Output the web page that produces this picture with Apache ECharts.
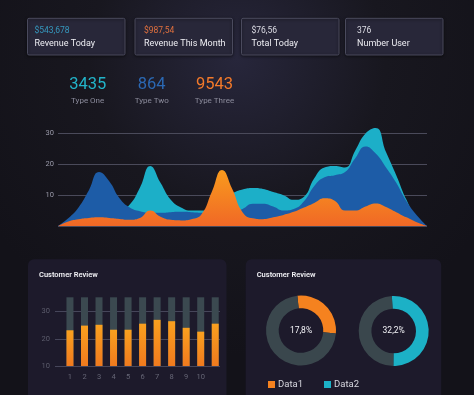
<!DOCTYPE html>
<html><head><meta charset="utf-8">
<script src="https://cdn.jsdelivr.net/npm/echarts@6/dist/echarts.min.js"></script>
<style>html,body{margin:0;padding:0;background:#14141d;overflow:hidden}#c{width:474px;height:395px}</style>
</head><body><div id="c"></div>
<script>
// ---------- data ----------
const cardValues = ['$543,678', '$987,54', '$76,56', '376'];
const cardLabels = ['Revenue Today', 'Revenue This Month', 'Total Today', 'Number User'];
const statValues = ['3435', '864', '9543'];
const statLabels = ['Type One', 'Type Two', 'Type Three'];

const areaCategories = Array.from({length: 37}, (_, i) => String(i + 1));
const areaCyan = [0, 0.5, 1, 2, 3, 4, 5, 7, 12.5, 19.5, 14, 8.5, 6, 5, 5, 6, 8, 10.5, 11.8, 12.3, 12, 11, 10, 8.5, 9.5, 15.5, 19, 19.5, 19, 24.5, 30, 31.8, 24, 16.5, 8.5, 2.5, 0];
const areaBlue = [0, 2.5, 6, 11.5, 17.5, 14.5, 9, 6, 4.8, 4.3, 4.3, 4.5, 4.6, 4.5, 4.3, 4, 4, 4.2, 5.5, 7.2, 7.2, 6.3, 5, 5.5, 8, 13, 15.8, 16.5, 17.5, 22, 25.8, 23.5, 19, 14, 8, 3.5, 0];
const areaOrange = [0, 1.5, 2.2, 2.6, 2.8, 2.6, 2.3, 2, 2.6, 5, 3, 2, 1.8, 2.2, 3.8, 11, 18.2, 12, 4.5, 2.5, 2.2, 2.8, 3.6, 4.6, 6, 7.5, 9, 8.2, 5, 5, 6.3, 7.3, 6.2, 4.5, 2.8, 1.2, 0];
const areaTicks = [10, 20, 30];

const barCategories = ['1', '2', '3', '4', '5', '6', '7', '8', '9', '10', ''];
const barTotal = [35, 35, 35, 35, 35, 35, 35, 35, 35, 35, 35];
const barValues = [23, 24.7, 25, 23.2, 23.2, 25.4, 26.8, 26.3, 23.9, 22.5, 25.4];

const panelTitles = ['Customer Review', 'Customer Review'];
const donutNames = ['Data1', 'Data2'];
const donutValues = [28, 51];
const donutLabels = ['17,8%', '32,2%'];

// ---------- layout / styles ----------
const FONT = 'Roboto, "Liberation Sans", sans-serif';
const cardX = [27.5, 135, 241.5, 345.5];
const cardTextX = [34.5, 144, 251.5, 357];
const cardValueColors = ['#3597bd', '#e0703e', '#dcdce4', '#dcdce4'];
const statX = [87.7, 151.7, 214.5];
const statColors = ['#22b4c9', '#2b68b3', '#f2792a'];
const donutCenters = [[301, 330.5], [393.7, 331]];
const donutColors = ['#f5821f', '#1cb1c6'];

const chart = echarts.init(document.getElementById('c'), null, {renderer: 'canvas'});

const graphics = [];
graphics.push({
  type: 'rect', shape: {x: 0, y: 0, width: 474, height: 395}, z: -10,
  style: {fill: new echarts.graphic.RadialGradient(0.5, 0.15, 0.75, [
    {offset: 0, color: '#27263b'}, {offset: 0.5, color: '#18171f'}, {offset: 1, color: '#131219'}])}
});
// panels
[[28, 198.5], [245.7, 195.5]].forEach((p, i) => {
  graphics.push({type: 'rect', z: -5, shape: {x: p[0], y: 259.3, width: p[1], height: 160, r: 6},
    style: {fill: '#1d1a2b'}});
  graphics.push({type: 'text', z: 5, style: {x: p[0] + 11, y: 275, text: panelTitles[i], fill: '#f0f0f4',
    font: '600 7.5px ' + FONT, verticalAlign: 'middle'}});
});
// cards
cardValues.forEach((v, i) => {
  graphics.push({type: 'rect', z: -5, shape: {x: cardX[i], y: 18.3, width: 97.5, height: 36.7, r: 1.5},
    style: {fill: '#282739', stroke: '#4a4a5d', lineWidth: 1, shadowColor: 'rgba(0,0,0,0.5)', shadowBlur: 3, shadowOffsetY: 1}});
  graphics.push({type: 'text', z: 5, style: {x: cardTextX[i], y: 30.5, text: v, fill: cardValueColors[i],
    font: '8.5px ' + FONT, verticalAlign: 'middle'}});
  graphics.push({type: 'text', z: 5, style: {x: cardTextX[i], y: 43.7, text: cardLabels[i], fill: '#eeeef3',
    font: '9px ' + FONT, verticalAlign: 'middle'}});
});
// stats
statValues.forEach((v, i) => {
  graphics.push({type: 'text', z: 5, style: {x: statX[i], y: 85, text: v, fill: statColors[i],
    font: '16.5px ' + FONT, align: 'center', verticalAlign: 'middle'}});
  graphics.push({type: 'text', z: 5, style: {x: statX[i], y: 100.7, text: statLabels[i], fill: '#8c8c9c',
    font: '8px ' + FONT, align: 'center', verticalAlign: 'middle'}});
});
// donut center labels
donutLabels.forEach((t, i) => {
  graphics.push({type: 'text', z: 5, style: {x: donutCenters[i][0], y: donutCenters[i][1], text: t, fill: '#f2f2f6',
    font: '8.5px ' + FONT, align: 'center', verticalAlign: 'middle'}});
});

const areaSeries = (name, data, color) => ({
  name, type: 'line', xAxisIndex: 0, yAxisIndex: 0, data, smooth: 0.5, showSymbol: false, symbol: 'none',
  clip: false, silent: true, lineStyle: {width: 0, opacity: 0}, areaStyle: {color: color, opacity: 1}
});

chart.setOption({
  animation: false,
  textStyle: {fontFamily: FONT},
  graphic: {elements: graphics},
  grid: [
    {left: 58, right: 47, top: 133.5, bottom: 169},
    {left: 62.7, right: 251.5, top: 297.3, bottom: 29},
    {left: 55, right: 254, top: 311.5, bottom: 29}
  ],
  xAxis: [
    {gridIndex: 0, type: 'category', data: areaCategories, boundaryGap: false, show: false},
    {gridIndex: 1, type: 'category', data: barCategories, axisLine: {show: false}, axisTick: {show: false},
      axisLabel: {color: '#666676', fontSize: 7.5, margin: 7, interval: 0}},
    {gridIndex: 2, type: 'value', min: 0, max: 1, show: false}
  ],
  yAxis: [
    {gridIndex: 0, type: 'value', min: 0, max: 30, interval: 10,
      axisLine: {show: false}, axisTick: {show: false},
      axisLabel: {color: '#9a9aaa', fontSize: 7.5, margin: 4, formatter: v => areaTicks.includes(v) ? String(v) : ''},
      splitLine: {lineStyle: {color: '#4a4a5a', width: 1}}},
    {gridIndex: 1, type: 'value', min: 10, max: 35, show: false},
    {gridIndex: 2, type: 'value', min: 10, max: 30, interval: 10,
      axisLine: {show: false}, axisTick: {show: false},
      axisLabel: {color: '#5c5c6c', fontSize: 7.5, margin: 5},
      splitLine: {lineStyle: {color: '#46465a', width: 1}}}
  ],
  legend: {
    data: donutNames, left: 268, top: 379.5, itemWidth: 7, itemHeight: 7, itemGap: 21, padding: 0,
    icon: 'rect', selectedMode: false,
    textStyle: {color: '#d6d6de', fontSize: 9.5, fontFamily: FONT, padding: [0, 0, 0, -2]}
  },
  series: [
    areaSeries('Cyan', areaCyan, '#1cafc8'),
    areaSeries('Blue', areaBlue, '#1d5ca7'),
    areaSeries('Orange', areaOrange, new echarts.graphic.LinearGradient(0, 0, 0, 1, [
      {offset: 0, color: '#f99b1d'}, {offset: 1, color: '#f06826'}])),
    {type: 'bar', xAxisIndex: 1, yAxisIndex: 1, data: barTotal, barWidth: 7, silent: true, z: 3,
      itemStyle: {color: '#3b4950'}},
    {type: 'bar', xAxisIndex: 1, yAxisIndex: 1, data: barValues, barWidth: 7, barGap: '-100%', silent: true, z: 4,
      itemStyle: {color: new echarts.graphic.LinearGradient(0, 0, 0, 1, [
        {offset: 0, color: '#f9a01f'}, {offset: 1, color: '#f07a1e'}])}},
    ...donutNames.map((n, i) => ({
      type: 'pie', center: donutCenters[i], radius: [22.3, 35], startAngle: i === 0 ? 96 : 93, clockwise: true,
      silent: true, label: {show: false}, labelLine: {show: false},
      data: [
        {name: n, value: donutValues[i], itemStyle: {color: donutColors[i]}},
        {name: 'rest' + i, value: 100 - donutValues[i], itemStyle: {color: '#3a474d'}}
      ]
    }))
  ]
});
</script>
</body></html>
